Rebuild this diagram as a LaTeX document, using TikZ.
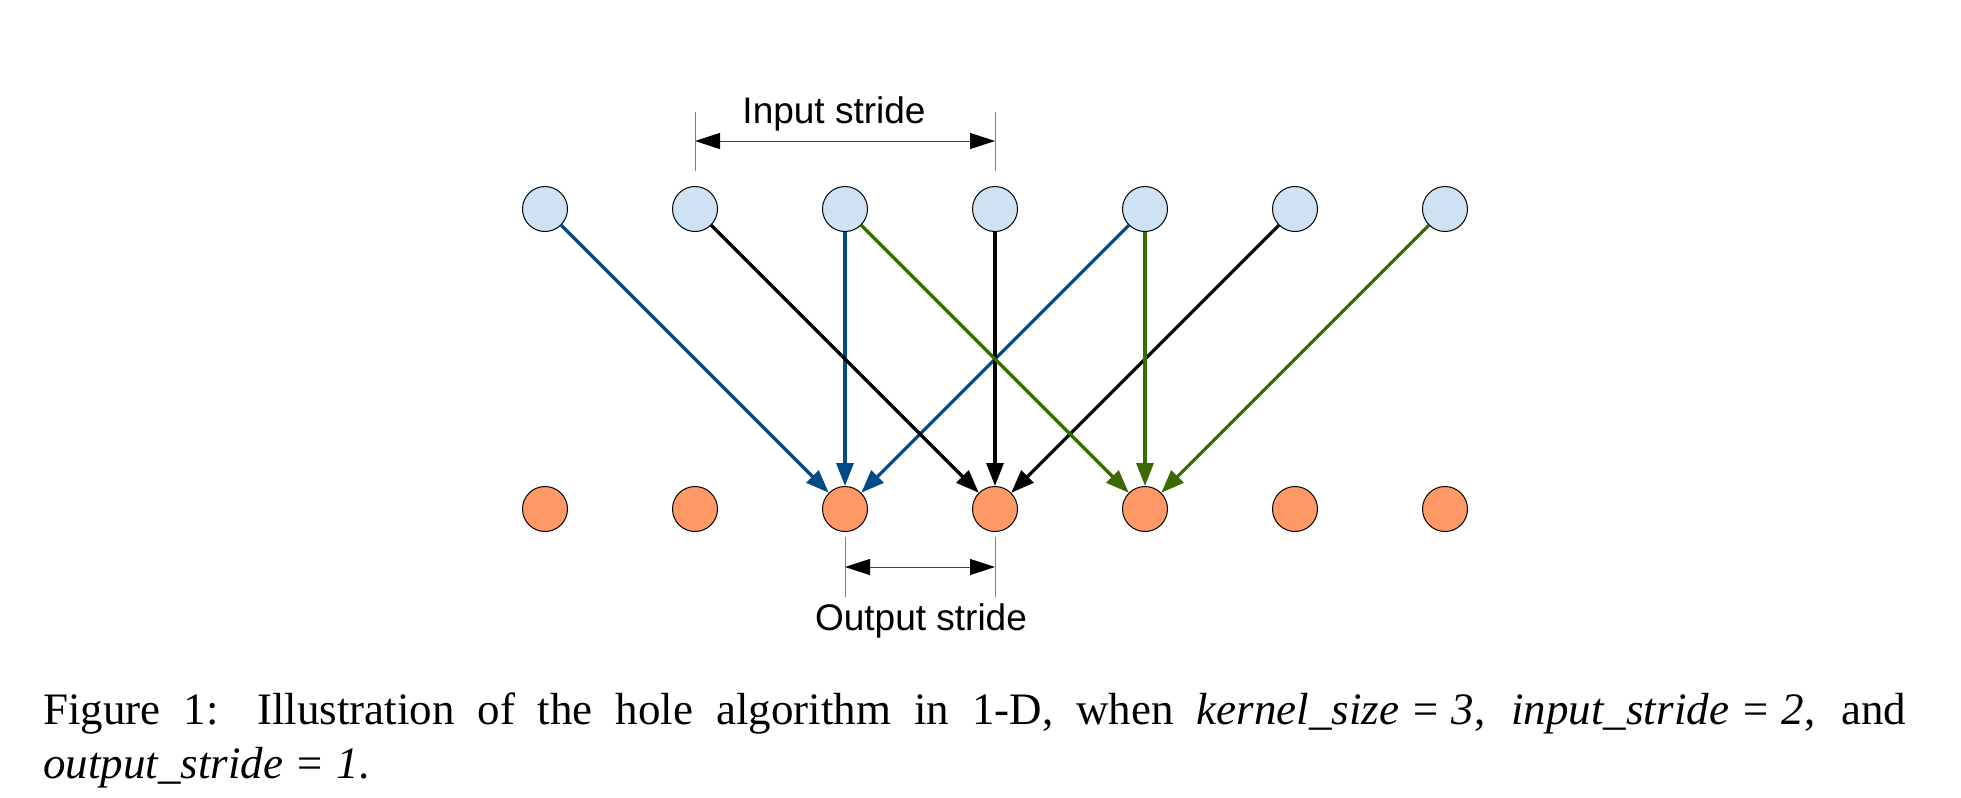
\documentclass[tikz,border=0pt]{standalone}
\usepackage{fontspec}
\setmainfont{Liberation Serif}
\newfontfamily\labelfont{Liberation Sans}
\usetikzlibrary{arrows.meta}

\definecolor{inblue}{HTML}{CFE2F3}
\definecolor{outorange}{HTML}{FF9966}
\definecolor{lineblue}{HTML}{004A86}
\definecolor{linegreen}{HTML}{3A6A00}

\begin{document}
\begin{tikzpicture}[
       x=0.5pt, y=-0.5pt,
       in_style/.style={circle, draw, black, line width=0.5pt, fill=inblue, minimum size=22.5pt, inner sep=0pt}, % 输入节点:浅蓝色圆
       out_style/.style={circle, draw, black, line width=0.5pt, fill=outorange, minimum size=22.5pt, inner sep=0pt}, % 输出节点:橙色圆
       link_style/.style={line width=1.6pt, -{Triangle[length=11.5pt,width=8.5pt]}}, % 连接线:粗线条、实心箭头
       tick_style/.style={draw, gray, line width=0.5pt}, % 标尺竖线:灰色细线
       dim_style/.style={draw, black!75, line width=0.5pt, {Triangle[length=12.5pt,width=8pt,color=black]}-{Triangle[length=12.5pt,width=8pt,color=black]}}, % 步长箭头
       label_style/.style={font=\labelfont\fontsize{18.5}{22}\selectfont, inner sep=0pt, anchor=base} % 标注文字
   ]
   \useasboundingbox (0,0) rectangle (1961,798);

   % 1. 绘制输入层节点(上排,间距150)
   \node[in_style] (in0) at (545,209) {};
   \node[in_style] (in1) at (695,209) {};
   \node[in_style] (in2) at (845,209) {};
   \node[in_style] (in3) at (995,209) {};
   \node[in_style] (in4) at (1145,209) {};
   \node[in_style] (in5) at (1295,209) {};
   \node[in_style] (in6) at (1445,209) {};

   % 2. 绘制输出层节点(下排)
   \node[out_style] (out0) at (545,509) {};
   \node[out_style] (out1) at (695,509) {};
   \node[out_style] (out2) at (845,509) {};
   \node[out_style] (out3) at (995,509) {};
   \node[out_style] (out4) at (1145,509) {};
   \node[out_style] (out5) at (1295,509) {};
   \node[out_style] (out6) at (1445,509) {};

   % 3. 绘制卷积连接(kernel_size = 3, input_stride = 2)
   \draw[link_style, lineblue] (in0) -- (out2);
   \draw[link_style, lineblue] (in2) -- (out2);
   \draw[link_style, lineblue] (in4) -- (out2);
   \draw[link_style, black] (in1) -- (out3);
   \draw[link_style, black] (in3) -- (out3);
   \draw[link_style, black] (in5) -- (out3);
   \draw[link_style, linegreen] (in2) -- (out4);
   \draw[link_style, linegreen] (in4) -- (out4);
   \draw[link_style, linegreen] (in6) -- (out4);

   % 4. 输入步长标尺
   \draw[tick_style] (695,112) -- (695,171);
   \draw[tick_style] (995,112) -- (995,171);
   \coordinate (is_left) at (695,141);
   \coordinate (is_right) at (995,141);
   \draw[dim_style] (is_left) -- (is_right);
   \node[label_style] (is_text) at (834,123) {Input stride};

   % 5. 输出步长标尺
   \draw[tick_style] (845,537) -- (845,597);
   \draw[tick_style] (995,537) -- (995,597);
   \coordinate (os_left) at (845,567);
   \coordinate (os_right) at (995,567);
   \draw[dim_style] (os_left) -- (os_right);
   \node[label_style] (os_text) at (921,630) {Output stride};

   % 6. 图注
   \node[anchor=north west, inner sep=0pt, text width=931.5pt, align=justify,
         font=\fontsize{22.5}{27}\selectfont] (caption) at (43,692)
        {\hyphenpenalty=10000 Figure 1: Illustration of the hole algorithm in 1-D, when \mbox{\textit{kernel\_size = 3}}, \mbox{\textit{input\_stride = 2}}, and\linebreak \textit{output\_stride = 1}.};

   \end{tikzpicture}
\end{document}
